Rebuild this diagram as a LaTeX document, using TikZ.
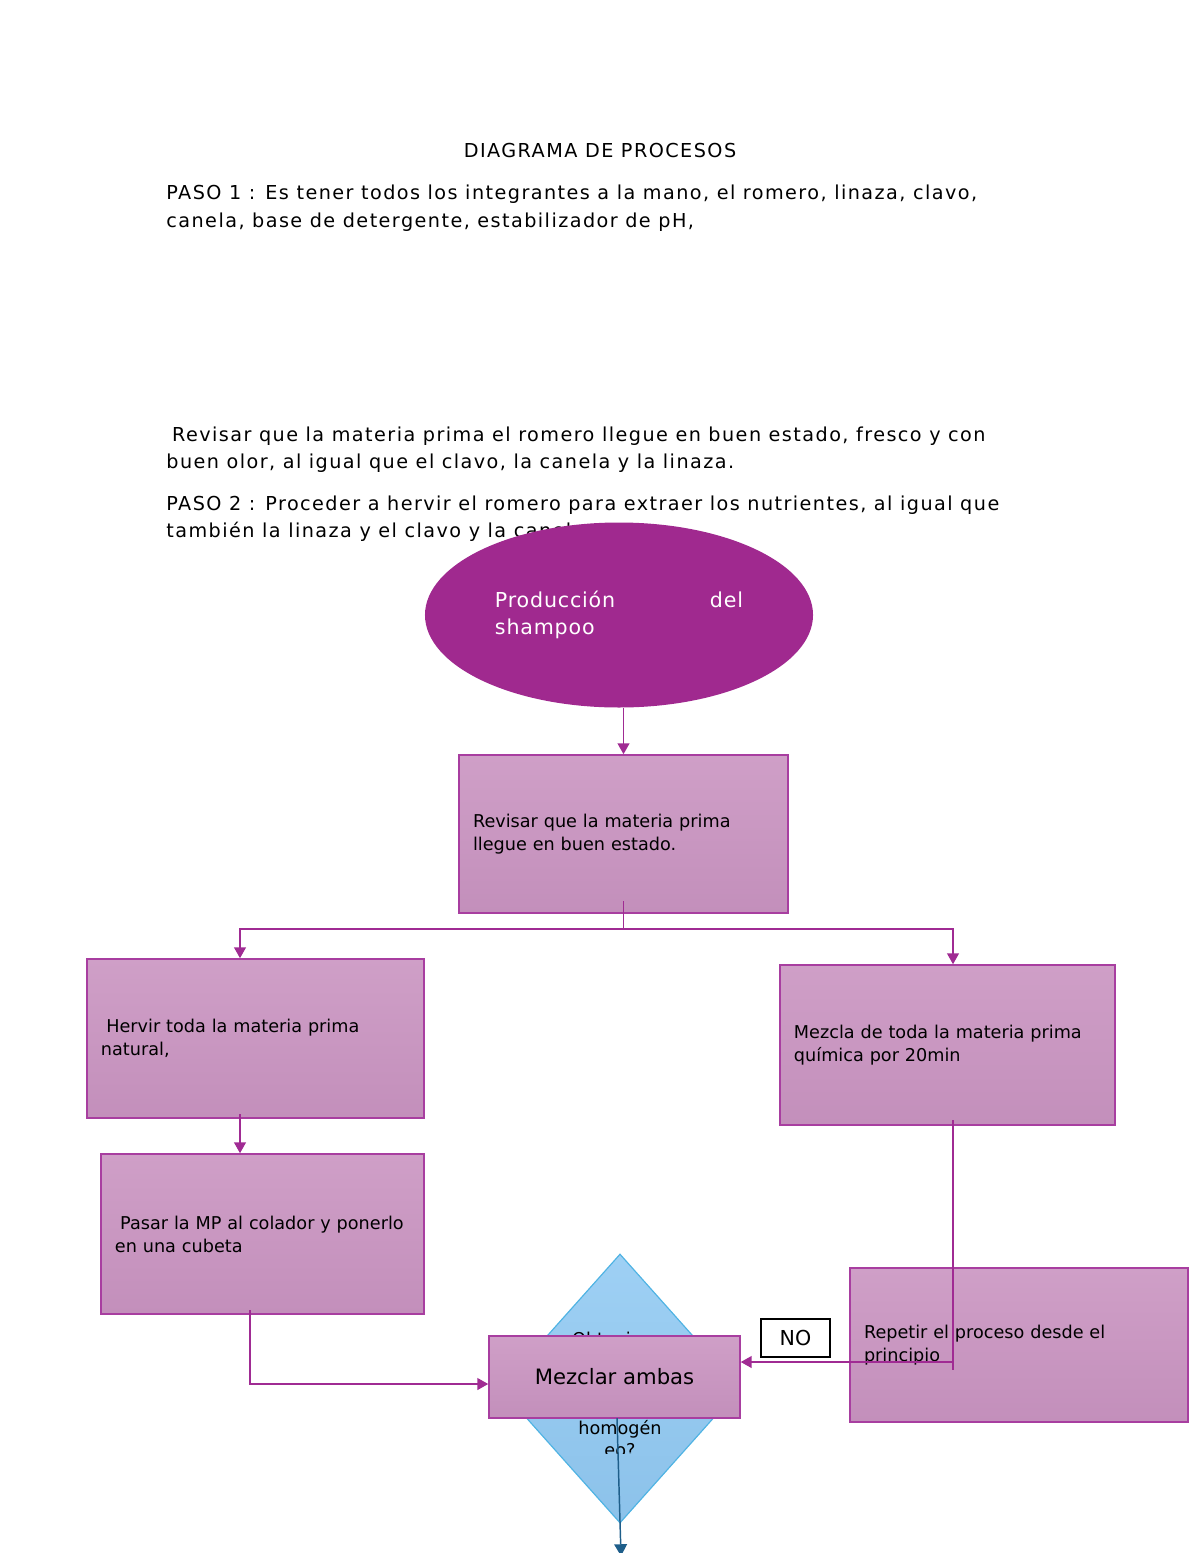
\documentclass[tikz,border=0pt]{standalone}
\usepackage{fontspec}
\setmainfont{DejaVu Sans}
\newfontfamily\spacedfont[LetterSpace=7.5]{DejaVu Sans}
\newfontfamily\ellfont[LetterSpace=4]{DejaVu Sans}
\usetikzlibrary{arrows.meta,shapes.geometric}
\definecolor{purp}{HTML}{A0298F}
\definecolor{boxtop}{HTML}{CF9FC7}
\definecolor{boxbot}{HTML}{C38FBB}
\definecolor{boxline}{HTML}{A83EA0}
\definecolor{conn}{HTML}{A02B93}
\definecolor{diatop}{HTML}{9ED0F4}
\definecolor{diabot}{HTML}{8CC2EA}
\definecolor{dialine}{HTML}{4FB3E3}
\definecolor{outarr}{HTML}{1E5E8A}
\begin{document}
\begin{tikzpicture}[x=0.51pt,y=-0.51pt,
  bodytext/.style={anchor=base west, inner sep=0pt, font=\spacedfont\fontsize{9.8}{13.8}\selectfont},
  procbox/.style 2 args={rectangle, draw=boxline, line width=0.8pt, top color=boxtop, bottom color=boxbot,
     inner xsep=7.14pt, inner ysep=0pt, text width=#1, minimum height=#2, align=left,
     font=\fontsize{9}{11.7}\selectfont},
  conn/.style={draw=conn, line width=0.75pt},
  arr/.style={conn, -{Triangle[length=5.5pt,width=6pt]}},
  outline/.style={draw=outarr, line width=0.75pt, -{Triangle[length=6pt,width=6.5pt]}}
]
\useasboundingbox (0,0) rectangle (1200,1553);

% header text
\node[anchor=base, inner sep=0pt, font=\spacedfont\fontsize{9.8}{13.8}\selectfont] (title) at (600,158) {DIAGRAMA DE PROCESOS};
\node[bodytext] (p1a) at (166,200) {PASO 1 : Es tener todos los integrantes a la mano, el romero, linaza, clavo,};
\node[bodytext] (p1b) at (166,227) {canela, base de detergente, estabilizador de pH,};
\node[bodytext] (r1) at (166,441) {\hspace{0.3em}Revisar que la materia prima el romero llegue en buen estado, fresco y con};
\node[bodytext] (r2) at (166,468) {buen olor, al igual que el clavo, la canela y la linaza.};
\node[bodytext] (p2a) at (166,510) {PASO 2 : Proceder a hervir el romero para extraer los nutrientes, al igual que};
\node[bodytext] (p2b) at (166,537) {también la linaza y el clavo y la canela.};

% start ellipse
\node[ellipse, fill=purp, minimum width=197.9pt, minimum height=94.35pt, inner sep=0pt,
      text=white, align=left, font=\ellfont\fontsize{10.5}{13.8}\selectfont] (ell) at (619,615)
      {\makebox[126.5pt][l]{Producción\hfill del}\\shampoo};

% process boxes
\node[procbox={153.5pt}{80.6pt}] (box1) at (623.5,834) {Revisar que la materia prima\\llegue en buen estado.};
\node[procbox={157.6pt}{81.1pt}] (box2) at (255.5,1038.5) {\hspace{0.3em}Hervir toda la materia prima\\natural,};
\node[procbox={150.5pt}{81.6pt}] (box4) at (262.5,1234) {\hspace{0.3em}Pasar la MP al colador y ponerlo\\en una cubeta};
\node[procbox={156.6pt}{81.6pt}] (box3) at (947.5,1045) {Mezcla de toda la materia prima\\química por 20min};
\node[procbox={158.1pt}{78.5pt}] (rep) at (1019,1345) {Repetir el proceso desde el\\principio};

% decision diamond
\node[diamond, draw=dialine, line width=0.6pt, top color=diatop, bottom color=diabot,
      minimum width=122.4pt, minimum height=137.2pt, inner sep=0pt] (dia) at (620,1388.5) {};
\begin{scope}
  \clip (500,1320) rectangle (740,1336);
  \node[inner sep=0pt, font=\fontsize{9}{11.2}\selectfont] (diatop) at (620,1339) {Obtuvimos};
\end{scope}
\begin{scope}
  \clip (500,1418) rectangle (740,1453);
  \node[align=center, inner sep=0pt, font=\fontsize{9}{11.2}\selectfont] (diabot) at (620,1439)
    {homogén\\eo?};
\end{scope}

% merge box
\node[rectangle, draw=boxline, line width=0.8pt, top color=boxtop, bottom color=boxbot,
      minimum width=128pt, minimum height=41.8pt, inner sep=0pt,
      font=\fontsize{10.8}{13}\selectfont] (mez) at (614.5,1377) {Mezclar ambas};

% NO label
\node[rectangle, draw=black, line width=0.6pt, fill=white, minimum width=35.2pt, minimum height=19.4pt,
      inner sep=0pt, font=\fontsize{10.5}{13}\selectfont] (no) at (795.5,1338) {NO};

% connectors
\coordinate (j1) at (623.5,929);
\coordinate (b1s) at (623.5,901);
\coordinate (r3) at (953,1370);
\coordinate (r3h) at (953,1362);
\coordinate (b4c) at (250,1384);
\coordinate (outend) at (621,1556);
\coordinate (outstart) at (617,1418);

\draw[arr] (ell.south -| box1.north) -- (box1.north);
\draw[conn] (b1s) -- (j1);
\draw[arr] (j1) -| (240,0 |- box2.north);
\draw[arr] (j1) -| (953,0 |- box3.north);
\draw[arr] (240,1114) -- (240,0 |- box4.north);
\draw[conn] (953,1120) -- (r3);
\draw[arr] (r3h) -- (mez.east |- r3h);
\draw[arr] (250,1310) -- (b4c) -- (mez.west |- b4c);
\draw[outline] (outstart) -- (outend);
\end{tikzpicture}
\end{document}
